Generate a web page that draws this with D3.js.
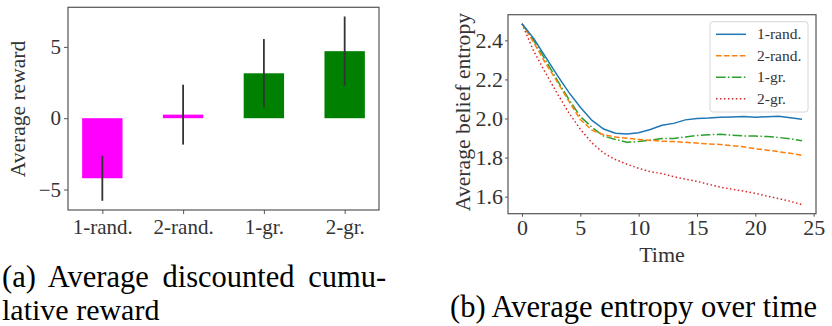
<!DOCTYPE html>
<html>
<head>
<meta charset="utf-8">
<script src="https://cdn.jsdelivr.net/npm/d3@7"></script>
<style>
  html, body { margin: 0; padding: 0; background: #fff; }
  svg { display: block; }
</style>
</head>
<body>
<svg id="chart" width="832" height="326"></svg>
<script>
// ---------- Data: panel (a) ----------
const barCategories = ["1-rand.", "2-rand.", "1-gr.", "2-gr."];
const barValues = [-4.21, 0.25, 3.15, 4.70];
const barErrors = [1.58, 2.10, 2.40, 2.43];
const barColors = ["#ff00ff", "#ff00ff", "#008000", "#008000"];
const barYTicks = [-5, 0, 5];

// ---------- Data: panel (b) ----------
const timeSteps = d3.range(0, 25);
const series1Rand = [2.485, 2.410, 2.317, 2.223, 2.135, 2.058, 1.990, 1.946, 1.925, 1.921, 1.927, 1.944, 1.965, 1.975, 1.993, 2.000, 2.002, 2.006, 2.008, 2.010, 2.007, 2.009, 2.011, 2.004, 1.996];
const series2Rand = [2.485, 2.390, 2.285, 2.190, 2.090, 1.995, 1.940, 1.917, 1.905, 1.899, 1.893, 1.888, 1.884, 1.882, 1.878, 1.874, 1.870, 1.867, 1.861, 1.855, 1.845, 1.838, 1.830, 1.822, 1.811];
const series1Gr   = [2.485, 2.400, 2.300, 2.198, 2.100, 2.010, 1.955, 1.910, 1.893, 1.878, 1.882, 1.890, 1.897, 1.898, 1.905, 1.913, 1.917, 1.919, 1.915, 1.911, 1.910, 1.908, 1.903, 1.896, 1.886];
const series2Gr   = [2.485, 2.345, 2.235, 2.130, 2.030, 1.945, 1.875, 1.823, 1.790, 1.766, 1.745, 1.728, 1.718, 1.702, 1.690, 1.678, 1.663, 1.649, 1.638, 1.628, 1.617, 1.603, 1.590, 1.576, 1.559];
const seriesNames = ["1-rand.", "2-rand.", "1-gr.", "2-gr."];
const seriesColors = ["#1f77b4", "#ff7f0e", "#2ca02c", "#d62728"];
const seriesDashes = [null, "5.55,2.4", "9.6,2.4,1.5,2.4", "1.5,2.475"];
const lineXTicks = [0, 5, 10, 15, 20, 25];
const lineYTicks = [1.6, 1.8, 2.0, 2.2, 2.4];

// ---------- Captions ----------
const captionA = ["(a) Average discounted cumu-", "lative reward"];
const captionB = "(b) Average entropy over time";

const FONT = '"Liberation Serif", "Times New Roman", serif';
const svg = d3.select("#chart");
const spineColor = "#555";
const textColor = "#333";

function styleAxis(g) {
  g.select(".domain").remove();
  g.attr("font-family", null);
  g.selectAll(".tick line").attr("stroke", spineColor).attr("stroke-width", 1);
  g.selectAll(".tick text").attr("fill", textColor).style("font-family", FONT);
}

// ================= Panel (a) =================
(function () {
  const L = 68, R = 379, T = 7.3, B = 210;
  const lo = d3.min(barValues.map((v, i) => Math.min(v - barErrors[i], 0)));
  const hi = d3.max(barValues.map((v, i) => Math.max(v + barErrors[i], 0)));
  const m = (hi - lo) * 0.05;
  const y = d3.scaleLinear().domain([lo - m, hi + m]).range([B, T]);
  const bw = 0.5;
  const xm = (barCategories.length - 1 + bw) * 0.05;
  const x = d3.scaleLinear().domain([-bw / 2 - xm, barCategories.length - 1 + bw / 2 + xm]).range([L, R]);

  const g = svg.append("g");

  g.selectAll("rect.bar").data(barValues).join("rect")
    .attr("class", "bar")
    .attr("x", (d, i) => x(i - bw / 2))
    .attr("width", (d, i) => x(i + bw / 2) - x(i - bw / 2))
    .attr("y", d => y(Math.max(d, 0)))
    .attr("height", d => Math.abs(y(d) - y(0)))
    .attr("fill", (d, i) => barColors[i]);

  g.selectAll("line.err").data(barValues).join("line")
    .attr("class", "err")
    .attr("x1", (d, i) => x(i)).attr("x2", (d, i) => x(i))
    .attr("y1", (d, i) => y(d + barErrors[i]))
    .attr("y2", (d, i) => y(d - barErrors[i]))
    .attr("stroke", "#333").attr("stroke-width", 1.8);

  g.append("rect").attr("x", L).attr("y", T).attr("width", R - L).attr("height", B - T)
    .attr("fill", "none").attr("stroke", spineColor).attr("stroke-width", 1.2);

  const ya = g.append("g").attr("transform", `translate(${L},0)`)
    .call(d3.axisLeft(y).tickValues(barYTicks).tickSize(4).tickPadding(3).tickSizeOuter(0));
  styleAxis(ya);
  ya.selectAll(".tick text").attr("font-size", 21).attr("x", -7);

  const xa = g.append("g").attr("transform", `translate(0,${B})`)
    .call(d3.axisBottom(x).tickValues(d3.range(barCategories.length)).tickFormat(i => barCategories[i]).tickSize(4).tickSizeOuter(0));
  styleAxis(xa);
  xa.selectAll(".tick text").attr("font-size", 21).attr("dy", 0).attr("y", 24);

  g.append("text").attr("transform", "translate(25,109) rotate(-90)")
    .attr("text-anchor", "middle").attr("font-size", 21.5).attr("fill", textColor)
    .style("font-family", FONT)
    .text("Average reward");
})();

// ================= Panel (b) =================
(function () {
  const L = 508, R = 816, T = 14.7, B = 213.7;
  const all = [series1Rand, series2Rand, series1Gr, series2Gr];
  const lo = d3.min(all, s => d3.min(s)), hi = d3.max(all, s => d3.max(s));
  const m = (hi - lo) * 0.05;
  const y = d3.scaleLinear().domain([lo - m, hi + m]).range([B, T]);
  const tx = d3.extent(timeSteps), mx = (tx[1] - tx[0]) * 0.05;
  const x = d3.scaleLinear().domain([tx[0] - mx, tx[1] + mx]).range([L, R]);

  const g = svg.append("g");
  const line = d3.line().x((d, i) => x(timeSteps[i])).y(d => y(d));

  all.map((s, k) => ({ s, k })).reverse().forEach(({ s, k }) => {
    g.append("path").datum(s)
      .attr("d", line)
      .attr("fill", "none")
      .attr("stroke", seriesColors[k])
      .attr("stroke-width", 1.5)
      .attr("stroke-dasharray", seriesDashes[k]);
  });

  g.append("rect").attr("x", L).attr("y", T).attr("width", R - L).attr("height", B - T)
    .attr("fill", "none").attr("stroke", spineColor).attr("stroke-width", 1.2);

  const ya = g.append("g").attr("transform", `translate(${L},0)`)
    .call(d3.axisLeft(y).tickValues(lineYTicks).tickFormat(d3.format(".1f")).tickSize(3).tickSizeOuter(0));
  styleAxis(ya);
  ya.selectAll(".tick text").attr("font-size", 22).attr("x", -5);

  const xa = g.append("g").attr("transform", `translate(0,${B})`)
    .call(d3.axisBottom(x).tickValues(lineXTicks).tickSize(3).tickSizeOuter(0));
  styleAxis(xa);
  xa.selectAll(".tick text").attr("font-size", 22).attr("dy", 0).attr("y", 21.5);

  g.append("text").attr("transform", "translate(470,112) rotate(-90)")
    .attr("text-anchor", "middle").attr("font-size", 21.7).attr("fill", textColor)
    .style("font-family", FONT)
    .text("Average belief entropy");

  g.append("text").attr("x", (L + R) / 2).attr("y", 261.7)
    .attr("text-anchor", "middle").attr("font-size", 22).attr("fill", textColor)
    .style("font-family", FONT)
    .text("Time");

  // legend
  const lg = g.append("g");
  lg.append("rect").attr("x", 710).attr("y", 21.7).attr("width", 98).attr("height", 90.3)
    .attr("rx", 3).attr("fill", "#fff").attr("fill-opacity", 0.8)
    .attr("stroke", "#d6d6d6").attr("stroke-width", 1);
  const rowY = d3.scaleLinear().domain([0, 3]).range([34.3, 98.8]);
  seriesNames.forEach((name, k) => {
    lg.append("line").attr("x1", 716).attr("x2", 746)
      .attr("y1", rowY(k)).attr("y2", rowY(k))
      .attr("stroke", seriesColors[k]).attr("stroke-width", 1.5)
      .attr("stroke-dasharray", seriesDashes[k]);
    lg.append("text").attr("x", 757).attr("y", rowY(k)).attr("dy", "0.33em")
      .attr("font-size", 15.5).attr("fill", textColor)
      .style("font-family", FONT).text(name);
  });
})();

// ================= Captions =================
svg.append("text").attr("x", 2).attr("y", 287).attr("font-size", 30.5)
  .style("font-family", FONT)
  .attr("fill", "#000").style("word-spacing", "6px").text(captionA[0]);
svg.append("text").attr("x", 2).attr("y", 319.5).attr("font-size", 30)
  .style("font-family", FONT)
  .attr("fill", "#000").text(captionA[1]);
svg.append("text").attr("x", 450).attr("y", 316.5).attr("font-size", 30.5)
  .style("font-family", FONT)
  .attr("fill", "#000").text(captionB);
</script>
</body>
</html>
